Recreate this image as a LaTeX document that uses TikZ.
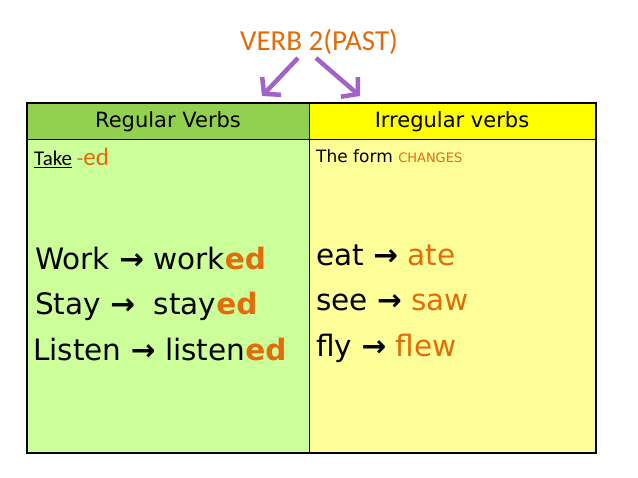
\documentclass[tikz,border=0pt]{standalone}
\usepackage{fontspec}
\setmainfont{DejaVu Sans}
\newfontfamily\calfnt{Carlito}
\newfontfamily\arr{DejaVu Sans}
\usetikzlibrary{arrows.meta}
\definecolor{org}{HTML}{E36C0A}
\definecolor{pur}{HTML}{A362C8}
\definecolor{gh}{HTML}{92D050}
\definecolor{gb}{HTML}{CCFF99}
\definecolor{yh}{HTML}{FFFF00}
\definecolor{yb}{HTML}{FFFF99}
\begin{document}
\begin{tikzpicture}[x=1pt,y=-1pt,
  parr/.style={draw=pur,line width=4.5pt,-{Straight Barb[length=11pt,width=26pt,line width=4.5pt]}},
  big/.style={anchor=base west,font=\fontsize{29.5}{32}\selectfont,inner sep=0pt},
  hdr/.style={font=\fontsize{21}{24}\selectfont,inner sep=0pt}]
\useasboundingbox (0,0) rectangle (638,478);
\fill[white] (0,0) rectangle (638,478);
\fill[gh] (27,103) rectangle (309,139);
\fill[yh] (309,103) rectangle (596,139);
\fill[gb] (27,139) rectangle (309,453);
\fill[yb] (309,139) rectangle (596,453);
\draw[line width=1.5pt] (27,103) rectangle (596,453);
\draw[line width=0.8pt] (27,139) -- (596,139);
\draw[line width=0.8pt] (309,103) -- (309,453);
\node[font=\calfnt\fontsize{29}{31}\selectfont,text=org] (title) at (319,42) {VERB 2(PAST)};
\coordinate (la) at (298,58); \coordinate (lb) at (262,96);
\coordinate (ra) at (316,58); \coordinate (rb) at (360,96);
\draw[parr] (la) -- (lb);
\draw[parr] (ra) -- (rb);
\node[hdr] (h1) at (168,122) {Regular Verbs};
\node[hdr] (h2) at (452,122) {Irregular verbs};
\node[anchor=base west,inner sep=0pt,font=\calfnt\fontsize{21}{22}\selectfont] (take) at (34,166) {\underline{Take}\ \textcolor{org}{-{\fontsize{25}{26}\selectfont ed}}};
\node[anchor=base west,inner sep=0pt,font=\fontsize{17}{19}\selectfont] (form) at (316,163) {The form \textcolor{org}{\fontsize{13}{15}\selectfont CHANGES}};
\node[big] (w) at (35,270) {Work {\arr\bfseries →} work\textcolor{org}{\bfseries ed}};
\node[big] (s) at (35,315) {Stay {\arr\bfseries →}\ \ stay\textcolor{org}{\bfseries ed}};
\node[big] (l) at (33,361) {Listen {\arr\bfseries →} listen\textcolor{org}{\bfseries ed}};
\node[big] (e) at (316,266) {eat {\arr\bfseries →} \textcolor{org}{ate}};
\node[big] (se) at (316,311) {see {\arr\bfseries →} \textcolor{org}{saw}};
\node[big] (f) at (316,357) {fly {\arr\bfseries →} \textcolor{org}{flew}};
\end{tikzpicture}
\end{document}
